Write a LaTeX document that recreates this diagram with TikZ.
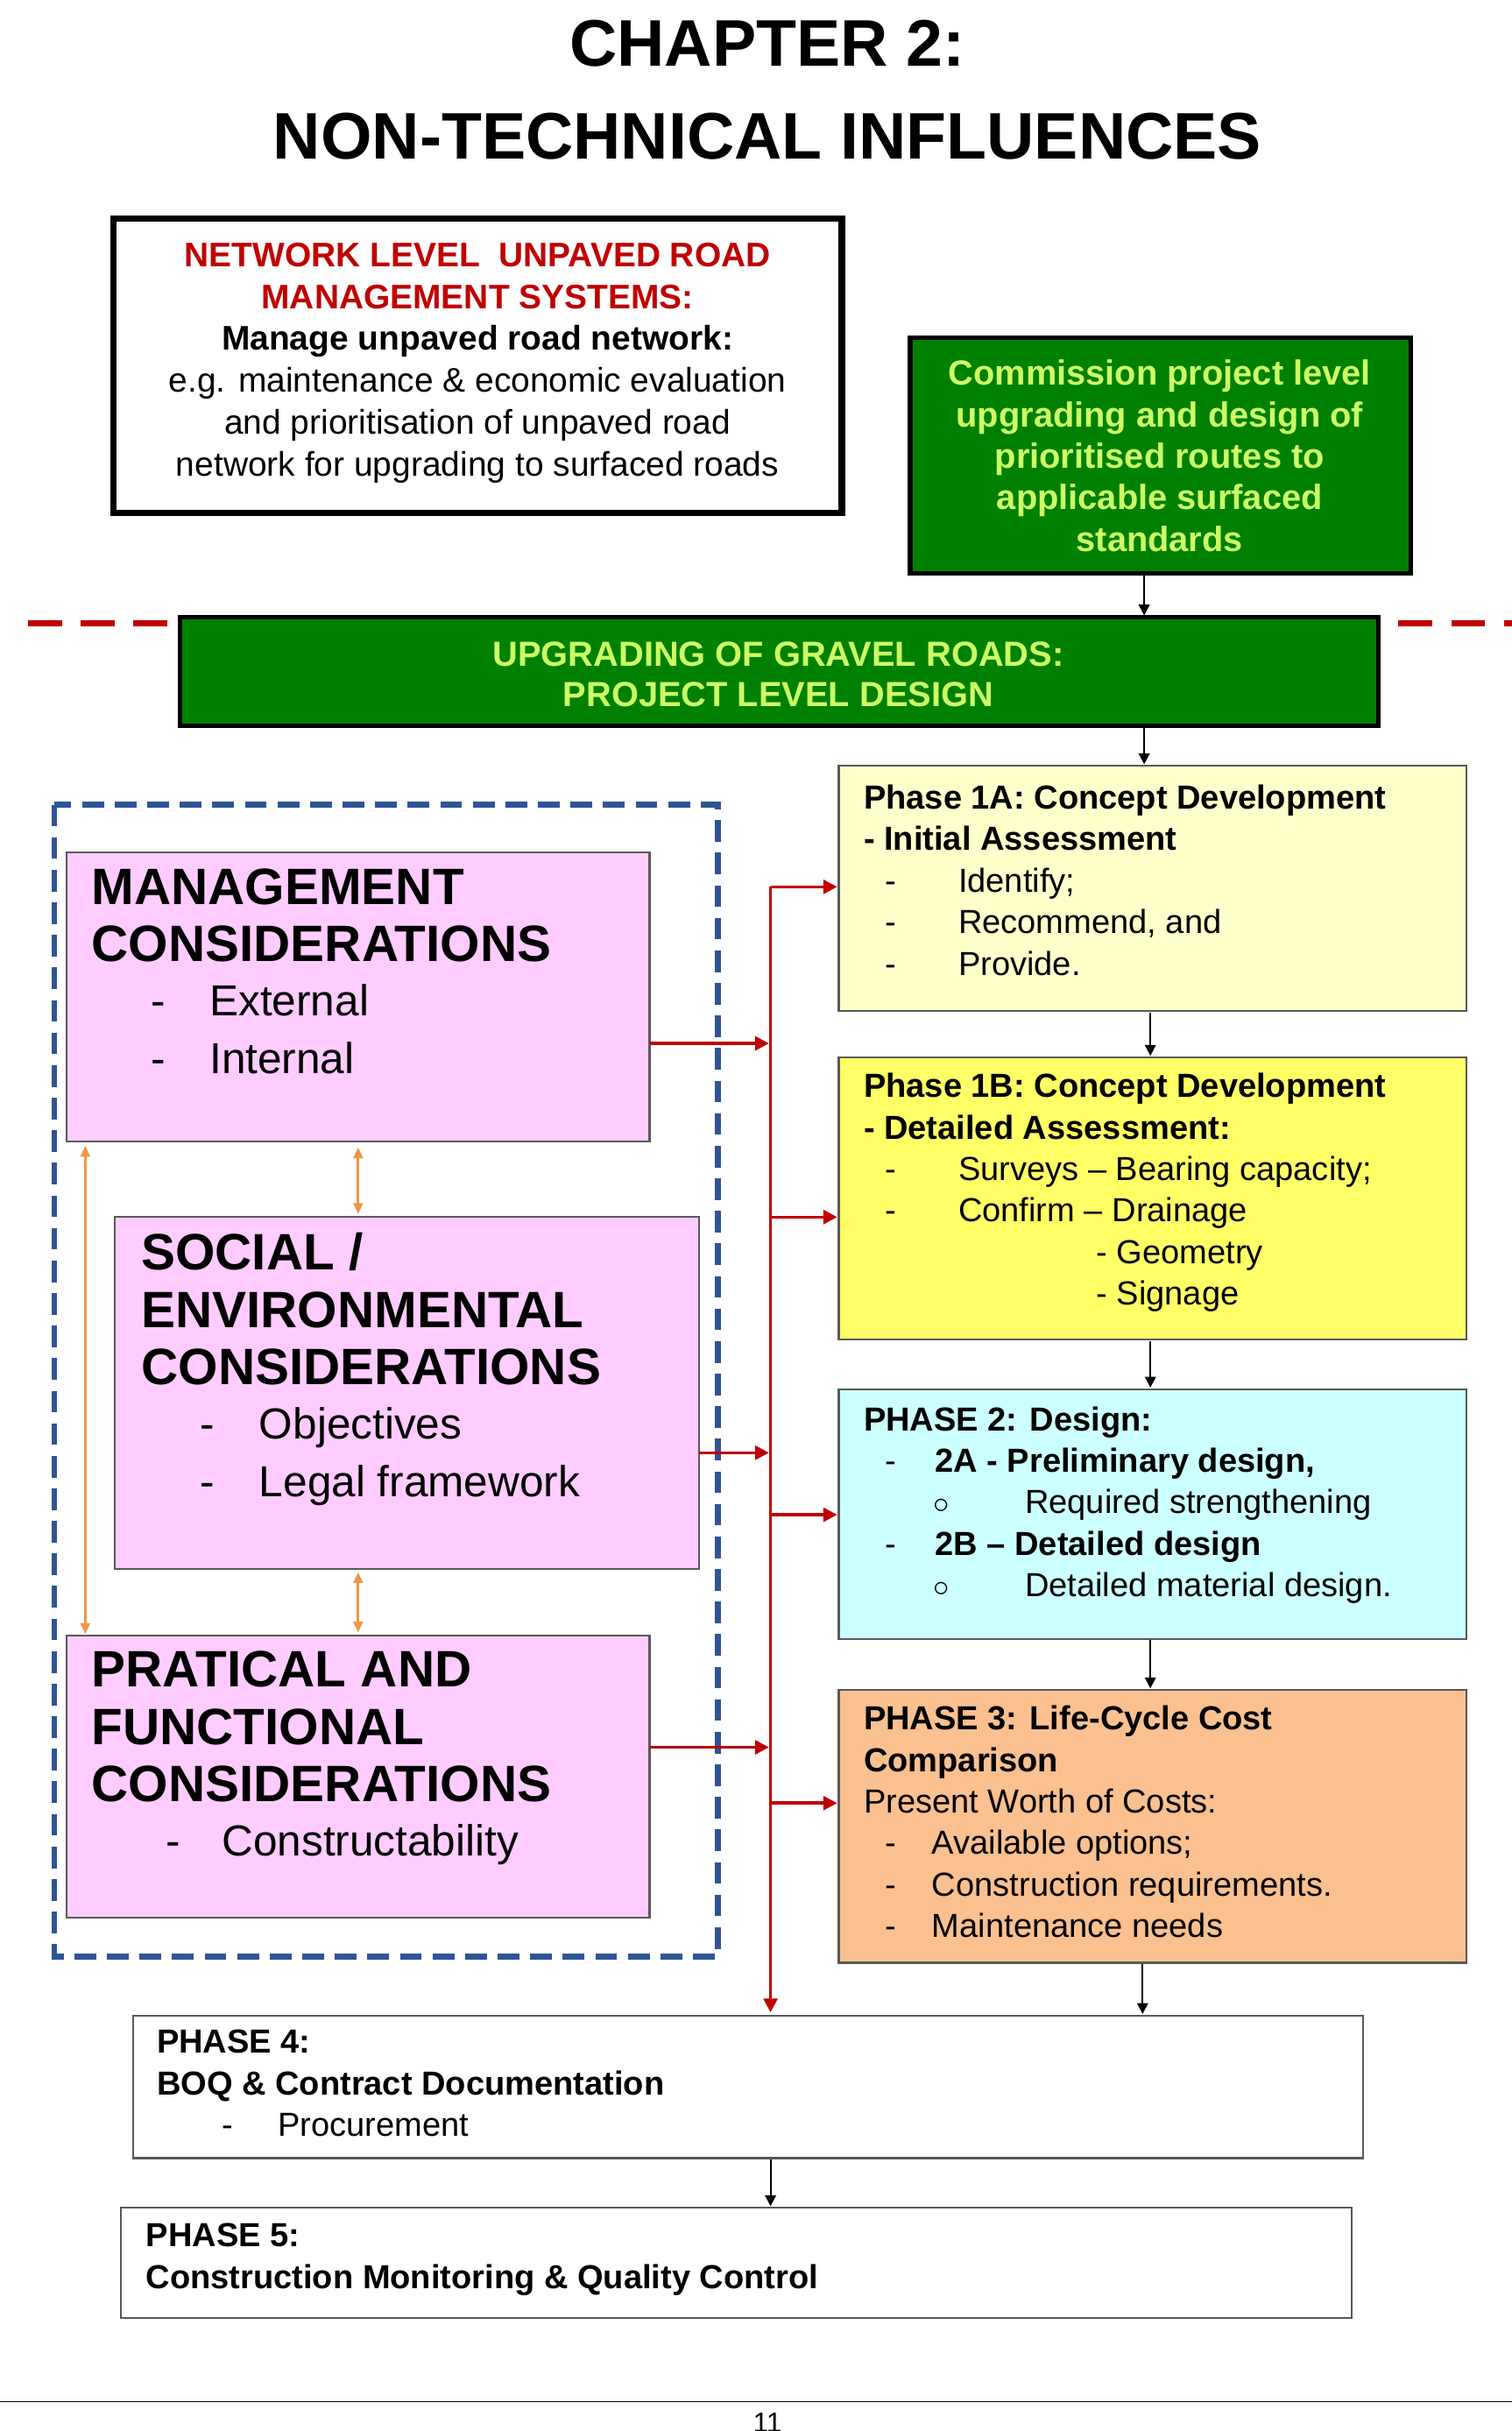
\documentclass[tikz,border=0pt]{standalone}
\usepackage{fontspec}
\setmainfont{Liberation Sans}
\usetikzlibrary{arrows.meta}
\definecolor{dgreen}{RGB}{0,128,0}
\definecolor{lgtext}{RGB}{204,255,102}
\definecolor{darkred}{RGB}{192,0,0}
\definecolor{pinkbox}{RGB}{255,204,255}
\definecolor{ph1a}{RGB}{255,255,204}
\definecolor{ph1b}{RGB}{255,255,102}
\definecolor{ph2}{RGB}{204,255,255}
\definecolor{ph3}{RGB}{250,192,144}
\definecolor{dblue}{RGB}{47,84,150}
\definecolor{orarr}{RGB}{240,150,70}
\tikzset{
 phase/.style={draw=gray!70!black,line width=1.2pt},
 txt/.style={anchor=north west,align=left,inner sep=0pt,font=\fontsize{21.5}{26.8}\selectfont},
 bigtxt/.style={anchor=north west,align=left,inner sep=0pt,font=\fontsize{33}{37}\selectfont},
 redarr/.style={darkred,line width=2pt,-{Triangle[length=9pt,width=9pt]}},
 blkarr/.style={black,line width=1.2pt,-{Triangle[length=7pt,width=7pt]}},
 orangearr/.style={orarr,line width=1.5pt,{Triangle[length=7pt,width=6pt]}-{Triangle[length=7pt,width=6pt]}},
}
% \li{dash offset}{text offset}{mark}{text}
\newcommand{\li}[4]{\hspace*{#1pt}\makebox[#2pt][l]{#3}#4}
\begin{document}
\begin{tikzpicture}[x=1pt,y=-1pt]
\useasboundingbox (0,0) rectangle (975,1568);
\fill[white] (0,0) rectangle (975,1568);
% title
\node[font=\bfseries\fontsize{42.5}{44}\selectfont] (t1) at (495,28) {CHAPTER 2:};
\node[font=\bfseries\fontsize{42.5}{44}\selectfont] (t2) at (495,88) {NON-TECHNICAL INFLUENCES};
% network box
\draw[line width=4pt] (73,141) rectangle (543,331);
\node[align=center,inner sep=0pt,font=\fontsize{22}{27}\selectfont] (net) at (308,234)
 {\textcolor{darkred}{\bfseries NETWORK LEVEL\ \ UNPAVED ROAD}\\
  \textcolor{darkred}{\bfseries MANAGEMENT SYSTEMS:}\\
  \bfseries Manage unpaved road network:\\
  e.g. maintenance \& economic evaluation\\
  and prioritisation of unpaved road\\
  network for upgrading to surfaced roads};
% commission box
\draw[fill=dgreen,line width=3pt] (587,218) rectangle (910,370);
\node[align=center,inner sep=0pt,text=lgtext,font=\bfseries\fontsize{22.5}{26.8}\selectfont] (com) at (748,294)
 {Commission project level\\upgrading and design of\\prioritised routes to\\applicable surfaced\\standards};
% dashed red line
\draw[darkred,line width=3.5pt,dash pattern=on 22pt off 12pt] (18,402) -- (975,402);
% upgrading bar
\draw[fill=dgreen,line width=3pt] (116,398) rectangle (889,468);
\node[align=center,inner sep=0pt,text=lgtext,font=\bfseries\fontsize{22.5}{26}\selectfont] (upg) at (502,435)
 {UPGRADING OF GRAVEL ROADS:\\PROJECT LEVEL DESIGN};
\coordinate (c1) at (738,371); \coordinate (c2) at (738,397);
\draw[blkarr] (c1) -- (c2);
% phases
\draw[phase,fill=ph1a] (541,494) rectangle (946,652);
\node[txt] (p1a) at (557,506) {\bfseries Phase 1A: Concept Development\\\bfseries - Initial Assessment\\
 \li{14}{47}{-}{Identify;}\\\li{14}{47}{-}{Recommend, and}\\\li{14}{47}{-}{Provide.}};
\draw[phase,fill=ph1b] (541,682) rectangle (946,864);
\node[txt] (p1b) at (557,692) {\bfseries Phase 1B: Concept Development\\\bfseries - Detailed Assessment:\\
 \li{14}{47}{-}{Surveys -- Bearing capacity;}\\\li{14}{47}{-}{Confirm -- Drainage}\\
 \hspace*{150pt}- Geometry\\\hspace*{150pt}- Signage};
\draw[phase,fill=ph2] (541,896) rectangle (946,1057);
\node[txt] (p2) at (557,907) {\bfseries PHASE 2: Design:\\
 \li{14}{32}{-}{\textbf{2A - Preliminary design,}}\\
 \li{45}{59}{$\circ$}{Required strengthening}\\
 \li{14}{32}{-}{\textbf{2B -- Detailed design}}\\
 \li{45}{59}{$\circ$}{Detailed material design.}};
\draw[phase,fill=ph3] (541,1090) rectangle (946,1266);
\node[txt] (p3) at (557,1100) {\bfseries PHASE 3: Life-Cycle Cost\\\bfseries Comparison\\Present Worth of Costs:\\
 \li{14}{30}{-}{Available options;}\\\li{14}{30}{-}{Construction requirements.}\\\li{14}{30}{-}{Maintenance needs}};
\draw[phase,fill=white] (86,1300) rectangle (879,1392);
\node[txt] (p4) at (101,1309) {\bfseries PHASE 4:\\\bfseries BOQ \& Contract Documentation\\\li{42}{36}{-}{Procurement}};
\draw[phase,fill=white] (78,1424) rectangle (872,1495);
\node[txt] (p5) at (94,1434) {\bfseries PHASE 5:\\\bfseries Construction Monitoring \& Quality Control};
\coordinate (a1) at (738,469); \coordinate (a2) at (738,493);
\coordinate (a3) at (742,653); \coordinate (a4) at (742,681);
\coordinate (a5) at (742,865); \coordinate (a6) at (742,895);
\coordinate (a7) at (742,1058); \coordinate (a8) at (742,1089);
\coordinate (a9) at (737,1267); \coordinate (a10) at (737,1299);
\coordinate (a11) at (497,1393); \coordinate (a12) at (497,1423);
\foreach \s/\e in {a1/a2,a3/a4,a5/a6,a7/a8,a9/a10,a11/a12} \draw[blkarr] (\s) -- (\e);
% blue dashed group
\draw[dblue,line width=3.5pt,dash pattern=on 14pt off 7pt] (35,519) rectangle (463,1262);
% pink boxes
\draw[phase,fill=pinkbox] (43,550) rectangle (419,736);
\node[bigtxt] (mg) at (59,560) {\bfseries MANAGEMENT\\\bfseries CONSIDERATIONS\\[-2pt]
 \fontsize{28}{35}\selectfont\li{38}{38}{-}{External}\\\fontsize{28}{35}\selectfont\li{38}{38}{-}{Internal}};
\draw[phase,fill=pinkbox] (74,785) rectangle (451,1012);
\node[bigtxt] (so) at (91,795) {\bfseries SOCIAL /\\\bfseries ENVIRONMENTAL\\\bfseries CONSIDERATIONS\\[-2pt]
 \fontsize{28}{35}\selectfont\li{38}{38}{-}{Objectives}\\\fontsize{28}{35}\selectfont\li{38}{38}{-}{Legal framework}};
\draw[phase,fill=pinkbox] (43,1055) rectangle (419,1237);
\node[bigtxt] (pr) at (59,1065) {\bfseries PRATICAL AND\\\bfseries FUNCTIONAL\\\bfseries CONSIDERATIONS\\[-2pt]
 \fontsize{28}{35}\selectfont\li{48}{36}{-}{Constructability}};
% orange arrows
\coordinate (o1) at (231,740); \coordinate (o2) at (231,783);
\coordinate (o3) at (231,1014); \coordinate (o4) at (231,1053);
\coordinate (o5) at (55,739); \coordinate (o6) at (55,1054);
\draw[orangearr] (o1) -- (o2);
\draw[orangearr] (o3) -- (o4);
\draw[orangearr] (o5) -- (o6);
% red connectors
\coordinate (r0) at (497,572); \coordinate (rb) at (497,1298);
\draw[darkred,line width=2pt] (r0) -- (497,1280);
\draw[redarr] (497,1270) -- (rb);
\foreach \y in {572,785,977,1163} \draw[redarr] (497,\y) -- (540,\y);
\draw[redarr] (419,673) -- (496,673);
\draw[redarr] (451,937) -- (496,937);
\draw[redarr] (419,1127) -- (496,1127);
% footer
\draw[line width=1pt] (0,1549) -- (975,1549);
\node[font=\fontsize{18}{20}\selectfont,anchor=north] (pg) at (495,1553) {11};
\end{tikzpicture}
\end{document}
